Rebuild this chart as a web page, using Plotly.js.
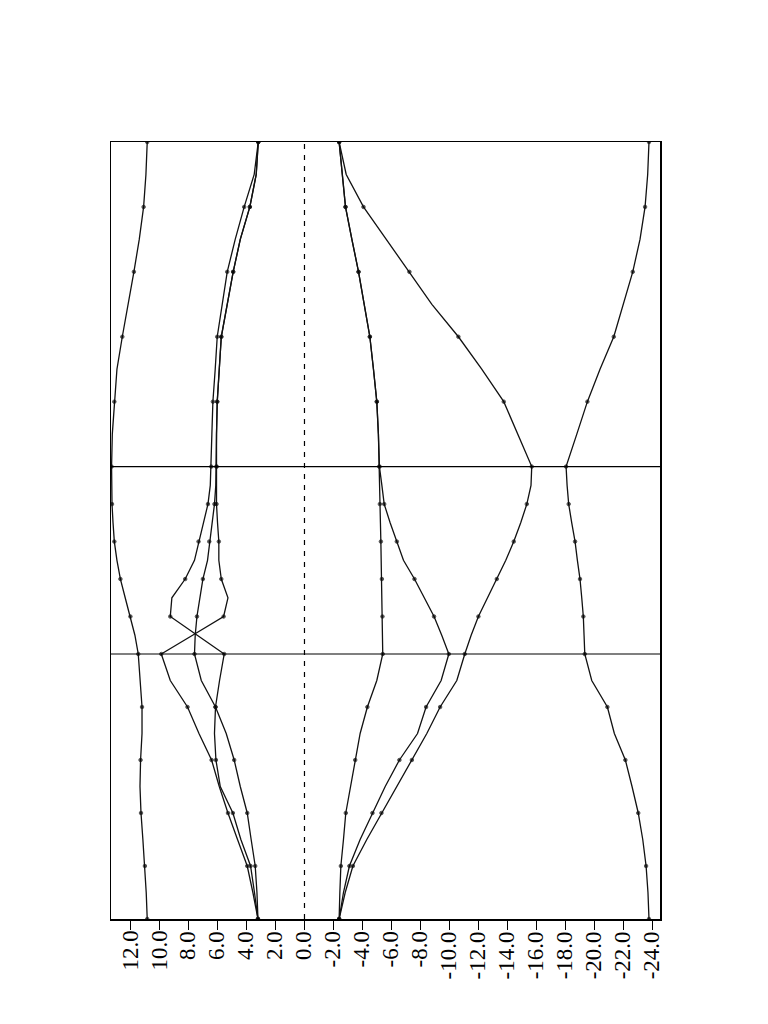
<!DOCTYPE html>
<html>
<head>
<meta charset="utf-8">
<script src="https://cdn.plot.ly/plotly-3.0.1.min.js"></script>
<style>
  html, body { margin: 0; padding: 0; background: #fff; }
  #chart { width: 768px; height: 1024px; }
</style>
</head>
<body>
<div id="chart"></div>
<script>
// k-path coordinates (cumulative path length), 10 sub-steps per segment
const kPoints = [
  0.0000, 0.0866, 0.1732, 0.2598, 0.3464, 0.4330, 0.5196, 0.6062, 0.6928, 0.7794, 0.8660,
  0.9160, 0.9660, 1.0160, 1.0660, 1.1160, 1.1660, 1.2160, 1.2660, 1.3160, 1.3660,
  1.4367, 1.5074, 1.5781, 1.6488, 1.7195, 1.7902, 1.8609, 1.9316, 2.0023, 2.0730
];
// high-symmetry points along the path
const highSymK = [0.0, 0.866, 1.366, 2.073];

// band energies (eV)
const bandA = [10.85, 10.94, 11.10, 11.40, 11.77, 12.18, 12.57, 12.94, 13.12, 13.26, 13.31,
  13.31, 13.28, 13.21, 13.12, 12.94, 12.70, 12.37, 12.01, 11.70, 11.47,
  11.33, 11.21, 11.21, 11.31, 11.35, 11.28, 11.15, 11.01, 10.92, 10.85];
const bandB = [3.19, 3.47, 4.16, 4.78, 5.33, 5.70, 6.02, 6.16, 6.32, 6.39, 6.43,
  6.50, 6.66, 6.97, 7.31, 7.59, 8.23, 9.15, 9.26, 7.42, 5.54,
  5.86, 6.14, 6.21, 6.11, 5.81, 4.94, 4.39, 3.72, 3.45, 3.21];
const bandC = [3.19, 3.33, 3.77, 4.43, 4.92, 5.35, 5.74, 5.88, 6.02, 6.07, 6.07,
  6.12, 6.21, 6.37, 6.57, 6.69, 7.01, 7.24, 7.42, 7.54, 7.59,
  7.12, 6.14, 5.40, 4.85, 4.43, 3.95, 3.68, 3.40, 3.28, 3.21];
const bandD = [3.19, 3.33, 3.77, 4.43, 4.92, 5.35, 5.74, 5.88, 6.02, 6.07, 6.07,
  6.06, 6.07, 6.00, 5.91, 5.91, 5.74, 5.28, 5.58, 7.72, 9.88,
  9.26, 8.07, 7.28, 6.41, 5.88, 5.28, 4.62, 3.95, 3.56, 3.21];
const bandE = [-2.39, -2.62, -2.83, -3.27, -3.73, -4.12, -4.51, -4.76, -4.99, -5.10, -5.17,
  -5.19, -5.20, -5.24, -5.27, -5.29, -5.34, -5.36, -5.38, -5.38, -5.40,
  -4.99, -4.34, -3.84, -3.50, -3.15, -2.85, -2.69, -2.51, -2.44, -2.39];
const bandF = [-2.39, -2.62, -2.83, -3.27, -3.73, -4.12, -4.51, -4.76, -4.99, -5.10, -5.17,
  -5.34, -5.50, -5.91, -6.37, -6.83, -7.59, -8.28, -8.94, -9.47, -9.96,
  -9.43, -8.39, -7.80, -6.55, -5.57, -4.69, -3.84, -3.10, -2.69, -2.39];
const bandG = [-2.39, -2.88, -4.07, -5.66, -7.24, -8.79, -10.62, -12.23, -13.75, -14.69, -15.68,
  -15.63, -15.34, -14.92, -14.44, -13.89, -13.27, -12.65, -12.00, -11.50, -11.06,
  -10.51, -9.36, -8.44, -7.41, -6.37, -5.31, -4.30, -3.34, -2.81, -2.39];
const bandH = [-23.77, -23.68, -23.50, -23.15, -22.65, -22.00, -21.34, -20.39, -19.52, -18.79, -18.05,
  -18.12, -18.23, -18.44, -18.67, -18.83, -19.01, -19.13, -19.24, -19.29, -19.34,
  -19.82, -20.90, -21.38, -22.14, -22.60, -23.03, -23.34, -23.57, -23.70, -23.77];

const bands = [bandA, bandB, bandC, bandD, bandE, bandF, bandG, bandH];

const energyTicks = [12, 10, 8, 6, 4, 2, 0, -2, -4, -6, -8, -10, -12, -14, -16, -18, -20, -22, -24];
const energyTickText = ["12.0", "10.0", "8.0", "6.0", "4.0", "2.0", "0.0", "-2.0", "-4.0", "-6.0",
  "-8.0", "-10.0", "-12.0", "-14.0", "-16.0", "-18.0", "-20.0", "-22.0", "-24.0"];
const fermiLevel = 0.0;

const serifFont = { family: 'Liberation Serif, Times New Roman, serif', size: 23, color: '#000' };

const traces = bands.map(b => ({
  type: 'scatter',
  mode: 'lines+markers',
  x: b,
  y: kPoints,
  line: { color: '#111', width: 1.3 },
  marker: { color: '#000', size: kPoints.map((_, i) => (i % 2 === 0 ? 3.5 : 0)), symbol: 'circle' },
  hoverinfo: 'skip',
  showlegend: false
}));

const shapes = [];
highSymK.slice(1, -1).forEach(k => {
  shapes.push({ type: 'line', xref: 'paper', x0: 0, x1: 1, yref: 'y', y0: k, y1: k,
    line: { color: '#000', width: 1.2 } });
});
shapes.push({ type: 'line', xref: 'x', x0: fermiLevel, x1: fermiLevel, yref: 'paper', y0: 0, y1: 1,
  line: { color: '#000', width: 1.2, dash: '5px,6px' } });

// energy tick labels as rotated text under each tick
const annotations = energyTicks.map((v, i) => ({
  xref: 'x', x: v, yref: 'paper', y: 0,
  text: energyTickText[i], showarrow: false,
  textangle: -90, xanchor: 'center', yanchor: 'top', yshift: -10, xshift: -1,
  font: serifFont
}));

const layout = {
  width: 768, height: 1024,
  margin: { l: 111, r: 108, t: 142, b: 105 },
  paper_bgcolor: '#fff', plot_bgcolor: '#fff',
  showlegend: false,
  font: serifFont,
  xaxis: {
    range: [13.35, -24.53],
    tickmode: 'array', tickvals: energyTicks, ticktext: energyTickText,
    showticklabels: false,
    ticks: 'outside', ticklen: 9, tickwidth: 1.2, tickcolor: '#000',
    showgrid: false, zeroline: false,
    showline: true, linecolor: '#000', linewidth: 1.5, mirror: true
  },
  yaxis: {
    range: [highSymK[highSymK.length - 1], highSymK[0]],
    showticklabels: false, ticks: '',
    showgrid: false, zeroline: false,
    showline: true, linecolor: '#000', linewidth: 1.5, mirror: true
  },
  shapes: shapes,
  annotations: annotations
};

Plotly.newPlot('chart', traces, layout, { displayModeBar: false, staticPlot: true });
</script>
</body>
</html>
